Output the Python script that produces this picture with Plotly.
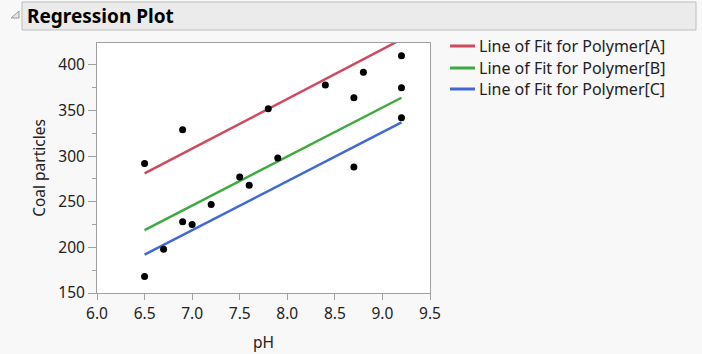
import plotly.graph_objects as go

# ---- data ----
ph = [6.5, 6.9, 9.2, 8.8, 8.4, 7.8, 8.7, 9.2, 9.2, 7.9, 8.7, 7.5, 7.6, 7.2, 6.9, 7.0, 6.7, 6.5]
coal = [292, 329, 410, 392, 378, 352, 364, 375, 342, 298, 288, 277, 268, 247, 228, 225, 198, 168]

fit_x = [6.5, 9.2]
fit_A = [281, 428]
fit_B = [219, 364]
fit_C = [192, 337]

series_names = ["Line of Fit for Polymer[A]", "Line of Fit for Polymer[B]", "Line of Fit for Polymer[C]"]
series_colors = ["#CF4A5E", "#3DAA3F", "#4169D3"]

x_ticks = [6.0, 6.5, 7.0, 7.5, 8.0, 8.5, 9.0, 9.5]
y_ticks = [150, 200, 250, 300, 350, 400]
y_minor = [175, 225, 275, 325, 375]

W, H = 702, 354
L, R, T, B = 97, 430, 43, 293

def px(x):
    return (x - L) / (R - L)

def py(y):
    return (B - y) / (B - T)

fig = go.Figure()
for name, ys, col in zip(series_names, [fit_A, fit_B, fit_C], series_colors):
    fig.add_trace(go.Scatter(x=fit_x, y=ys, mode="lines", name=name,
                             line=dict(color=col, width=2.5), showlegend=False))
fig.add_trace(go.Scatter(x=ph, y=coal, mode="markers", showlegend=False,
                         marker=dict(color="black", size=7)))

font = "Noto Sans, Segoe UI, sans-serif"
shapes = []
annotations = []

# header bar
shapes.append(dict(type="rect", xref="paper", yref="paper",
                   x0=px(22), x1=px(696), y0=py(30), y1=py(2),
                   fillcolor="#EBEBEB", line=dict(color="#BDBDBD", width=1), layer="below"))
# disclosure triangle
shapes.append(dict(type="path", xref="paper", yref="paper",
                   path=f"M {px(11)} {py(18)} L {px(19)} {py(18)} L {px(19)} {py(11)} Z",
                   fillcolor="#E4E4E4", line=dict(color="#9A9A9A", width=1)))
annotations.append(dict(text="<b>Regression Plot</b>", xref="paper", yref="paper",
                        x=px(25), y=py(16), xanchor="left", yanchor="middle",
                        showarrow=False, font=dict(family=font, size=19, color="black")))

# legend (manual)
leg_y = [46, 68, 89]
for name, col, yy in zip(series_names, series_colors, leg_y):
    shapes.append(dict(type="line", xref="paper", yref="paper",
                       x0=px(450), x1=px(475), y0=py(yy), y1=py(yy),
                       line=dict(color=col, width=3)))
    annotations.append(dict(text=name, xref="paper", yref="paper",
                            x=px(477), y=py(yy), xanchor="left", yanchor="middle",
                            showarrow=False, font=dict(family=font, size=16, color="#222")))

fig.update_layout(
    width=W, height=H,
    margin=dict(l=L, r=W - R, t=T, b=H - B, autoexpand=False),
    paper_bgcolor="#F8F8F8", plot_bgcolor="white",
    shapes=shapes, annotations=annotations,
    font=dict(family=font, size=15.5, color="#222"),
    xaxis=dict(range=[6.0, 9.5], tickvals=x_ticks, ticktext=[f"{v:.1f}" for v in x_ticks],
               automargin=False,
               showgrid=False, zeroline=False, showline=True, mirror=True,
               linecolor="#A0A0A0", linewidth=1, ticks="outside", ticklen=6,
               tickcolor="#A0A0A0",
               title=dict(text="pH", font=dict(family=font, size=15.5, color="#222"), standoff=14)),
    yaxis=dict(range=[150, 424], tickvals=y_ticks, automargin=False,
               showgrid=False, zeroline=False, showline=True, mirror=True,
               linecolor="#A0A0A0", linewidth=1, ticks="outside", ticklen=8,
               tickcolor="#A0A0A0",
               minor=dict(tickvals=y_minor, ticks="outside",
                          ticklen=4, tickcolor="#A0A0A0"),
               title=dict(text="Coal particles", font=dict(family=font, size=15.5, color="#222"),
                          standoff=8)),
)

fig.write_html("out.html")
